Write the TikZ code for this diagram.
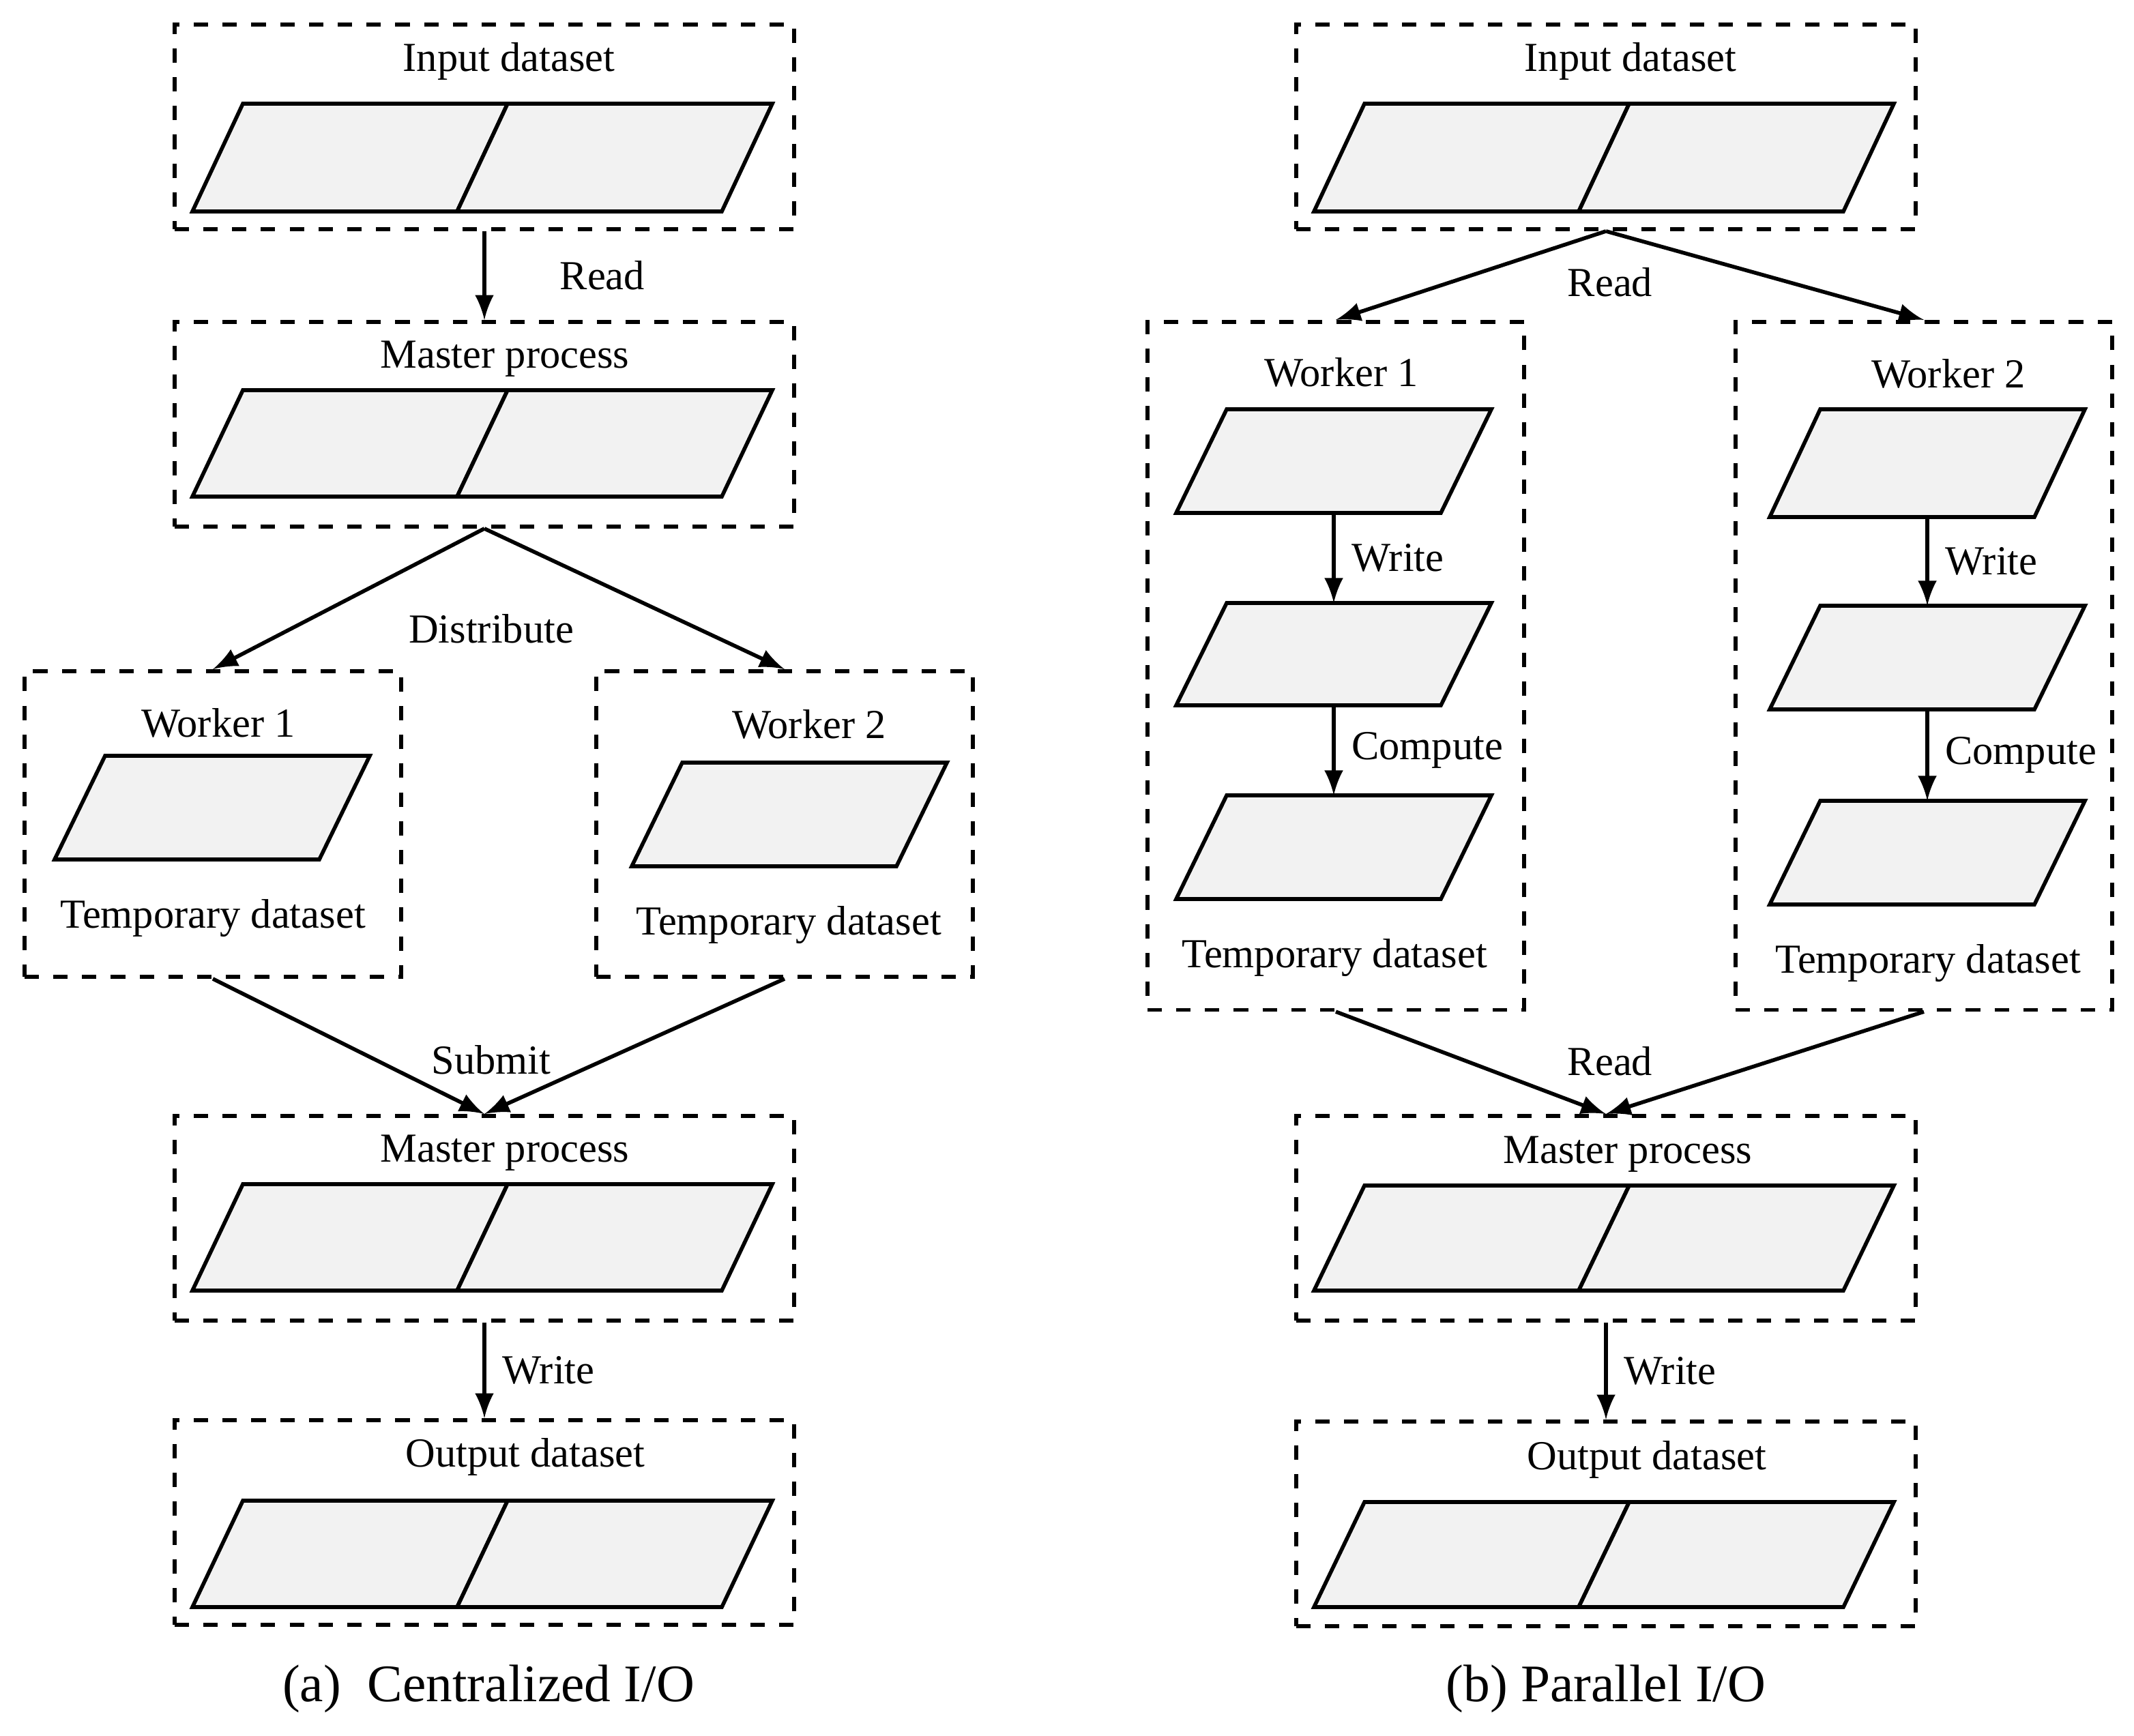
\documentclass[tikz,border=0pt]{standalone}
\usepackage{fontspec}
\setmainfont{Liberation Serif}
\usepackage{tikz}
\usetikzlibrary{positioning}

% parallelogram: name, left x, top y, bottom y
\newcommand{\pgram}[4]{
	\draw[blk] (#2,#4) -- (#2+37,#3) -- (#2+231,#3) -- (#2+194,#4) -- cycle;
	\coordinate (#1t) at (#2+115.5,#3);
	\coordinate (#1b) at (#2+115.5,#4);
}
% two joined parallelograms
\newcommand{\dpgram}[3]{
	\pgram{l}{#1}{#2}{#3}
	\pgram{r}{#1+194}{#2}{#3}
}

\begin{document}
\begin{tikzpicture}[x=0.01cm, y=-0.01cm,
	font=\fontsize{8.6}{10}\selectfont,
	box/.style={draw, dashed, thick, minimum width=4.54cm, minimum height=1.5cm, inner sep=0pt},
	wbox/.style={draw, dashed, thick, minimum width=2.76cm, inner sep=0pt},
	blk/.style={draw, thick, fill=gray!10},
	arr/.style={-latex, thick}]
	\useasboundingbox (0,0) rectangle (1564,1272);
	% (a) Centralized
	\node[box] (ina) at (355,93) {};
	\node at (373,45) {Input dataset};
	\dpgram{141}{76}{155}
	\node[box] (ma1) at (355,311) {};
	\node at (370,263) {Master process};
	\dpgram{141}{286}{364}
	\node[wbox, minimum height=2.24cm] (wa1) at (156,604) {};
	\node at (160,530) {Worker 1};
	\pgram{p}{40}{554}{630}
	\node at (156,673) {Temporary dataset};
	\node[wbox, minimum height=2.24cm] (wa2) at (575,604) {};
	\node at (593,531) {Worker 2};
	\pgram{p}{463}{559}{635}
	\node at (578,678) {Temporary dataset};
	\node[box] (ma2) at (355,893) {};
	\node at (370,845) {Master process};
	\dpgram{141}{868}{946}
	\node[box] (outa) at (355,1116) {};
	\node at (385,1068) {Output dataset};
	\dpgram{141}{1100}{1178}
	\draw[arr] (ina.south) -- (ma1.north) node[midway, right=12pt] {Read};
	\draw[arr] (ma1.south) -- (wa1.north);
	\draw[arr] (ma1.south) -- (wa2.north);
	\node at (360,461) {Distribute};
	\draw[arr] (wa1.south) -- (ma2.north);
	\draw[arr] (wa2.south) -- (ma2.north);
	\node at (360,777) {Submit};
	\draw[arr] (ma2.south) -- (outa.north) node[midway, right] {Write};
	\node[font=\fontsize{11}{13}\selectfont] at (358,1238) {(a)\ \ Centralized I/O};
	% (b) Parallel
	\node[box] (inb) at (1177,93) {};
	\node at (1195,45) {Input dataset};
	\dpgram{963}{76}{155}
	\node[wbox, minimum height=5.04cm] (wb1) at (979,488) {};
	\node at (983,273) {Worker 1};
	\pgram{a}{862}{300}{376}
	\pgram{b}{862}{442}{517}
	\pgram{c}{862}{583}{659}
	\node at (978,702) {Temporary dataset};
	\draw[arr] (at) ++(0,0) (ab) -- (bt) node[midway, right] {Write};
	\draw[arr] (bb) -- (ct) node[midway, right] {Compute};
	\node[wbox, minimum height=5.04cm] (wb2) at (1410,488) {};
	\node at (1428,274) {Worker 2};
	\pgram{d}{1297}{300}{379}
	\pgram{e}{1297}{444}{520}
	\pgram{f}{1297}{587}{663}
	\node at (1413,706) {Temporary dataset};
	\draw[arr] (db) -- (et) node[midway, right] {Write};
	\draw[arr] (eb) -- (ft) node[midway, right] {Compute};
	\node[box] (mb) at (1177,893) {};
	\node at (1193,846) {Master process};
	\dpgram{963}{869}{946}
	\node[box] (outb) at (1177,1117) {};
	\node at (1207,1070) {Output dataset};
	\dpgram{963}{1101}{1178}
	\draw[arr] (inb.south) -- (wb1.north);
	\draw[arr] (inb.south) -- (wb2.north);
	\node at (1180,207) {Read};
	\draw[arr] (wb1.south) -- (mb.north);
	\draw[arr] (wb2.south) -- (mb.north);
	\node at (1180,778) {Read};
	\draw[arr] (mb.south) -- (outb.north) node[midway, right] {Write};
	\node[font=\fontsize{11}{13}\selectfont] at (1177,1238) {(b) Parallel I/O};
\end{tikzpicture}
\end{document}
